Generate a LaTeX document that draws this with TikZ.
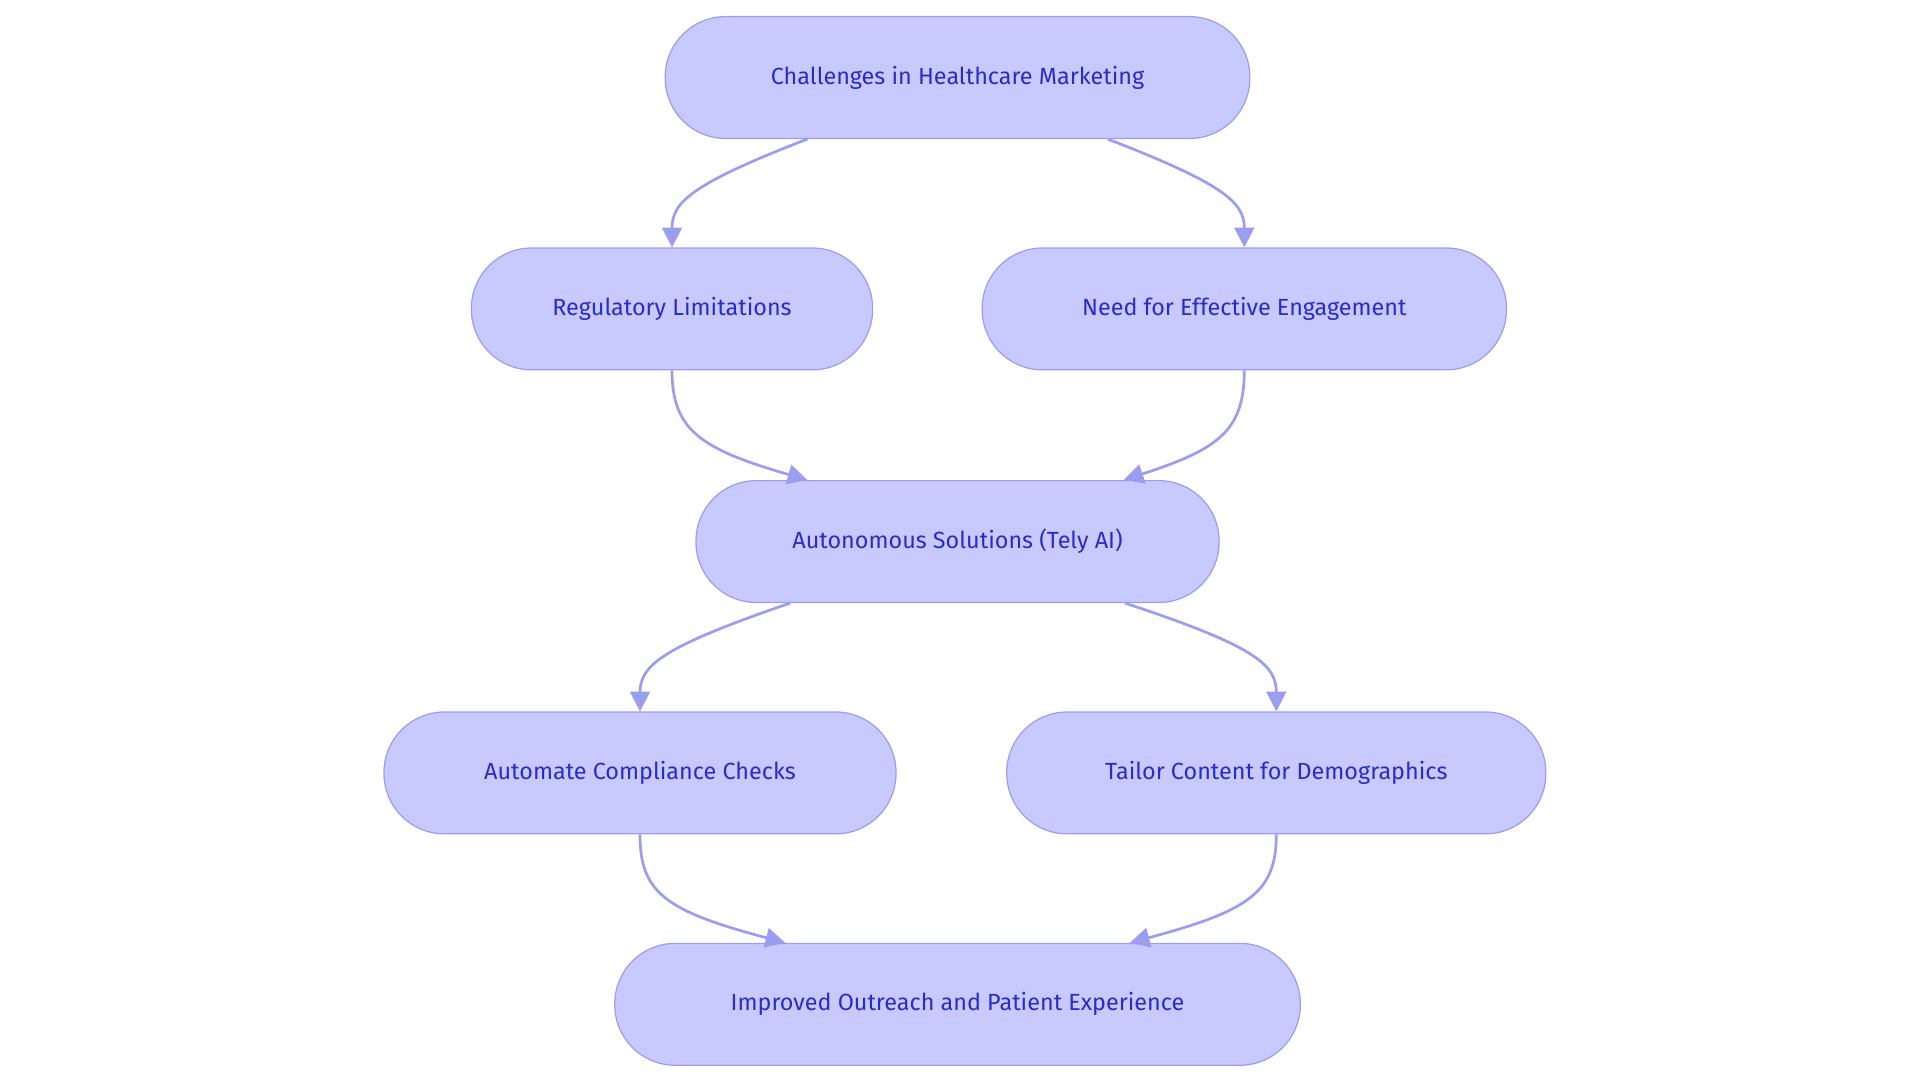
\documentclass[tikz,border=0pt]{standalone}
\usepackage{fontspec}
\setmainfont{Fira Sans}
\usetikzlibrary{arrows.meta}
\definecolor{fillc}{HTML}{C8CAFF}
\definecolor{linec}{HTML}{9B9EF0}
\definecolor{textc}{HTML}{2B2BCC}
\begin{document}
\begin{tikzpicture}[x=1pt,y=-1pt,
  box/.style={draw=linec,fill=fillc,rounded corners=49pt,minimum height=99pt,text=textc,font=\fontsize{19}{22}\selectfont,line width=1pt},
  arr/.style={draw=linec,line width=2.2pt,-{Triangle[length=16pt,width=16pt]}}]
\useasboundingbox (0,0) rectangle (1560,880);
\node[box,minimum width=475pt] (top) at (778,63) {Challenges in Healthcare Marketing};
\node[box,minimum width=326pt] (reg) at (546,251) {Regulatory Limitations};
\node[box,minimum width=426pt] (need) at (1011,251) {Need for Effective Engagement};
\node[box,minimum width=425pt] (aut) at (778,440) {Autonomous Solutions (Tely AI)};
\node[box,minimum width=416pt] (acc) at (520,628) {Automate Compliance Checks};
\node[box,minimum width=438pt] (tai) at (1037,628) {Tailor Content for Demographics};
\node[box,minimum width=557pt] (imp) at (778,816) {Improved Outreach and Patient Experience};
\draw[arr] ([xshift=-122pt]top.south) .. controls (560,150) and (546,165) .. (reg.north);
\draw[arr] ([xshift=122pt]top.south) .. controls (996,150) and (1011,165) .. (need.north);
\draw[arr] (reg.south) .. controls (546,350) and (570,365) .. ([xshift=-122pt]aut.north);
\draw[arr] (need.south) .. controls (1011,350) and (990,365) .. ([xshift=135pt]aut.north);
\draw[arr] ([xshift=-136pt]aut.south) .. controls (540,525) and (520,540) .. (acc.north);
\draw[arr] ([xshift=136pt]aut.south) .. controls (1020,525) and (1037,540) .. (tai.north);
\draw[arr] (acc.south) .. controls (520,725) and (540,740) .. ([xshift=-140pt]imp.north);
\draw[arr] (tai.south) .. controls (1037,725) and (1015,740) .. ([xshift=140pt]imp.north);
\end{tikzpicture}
\end{document}
